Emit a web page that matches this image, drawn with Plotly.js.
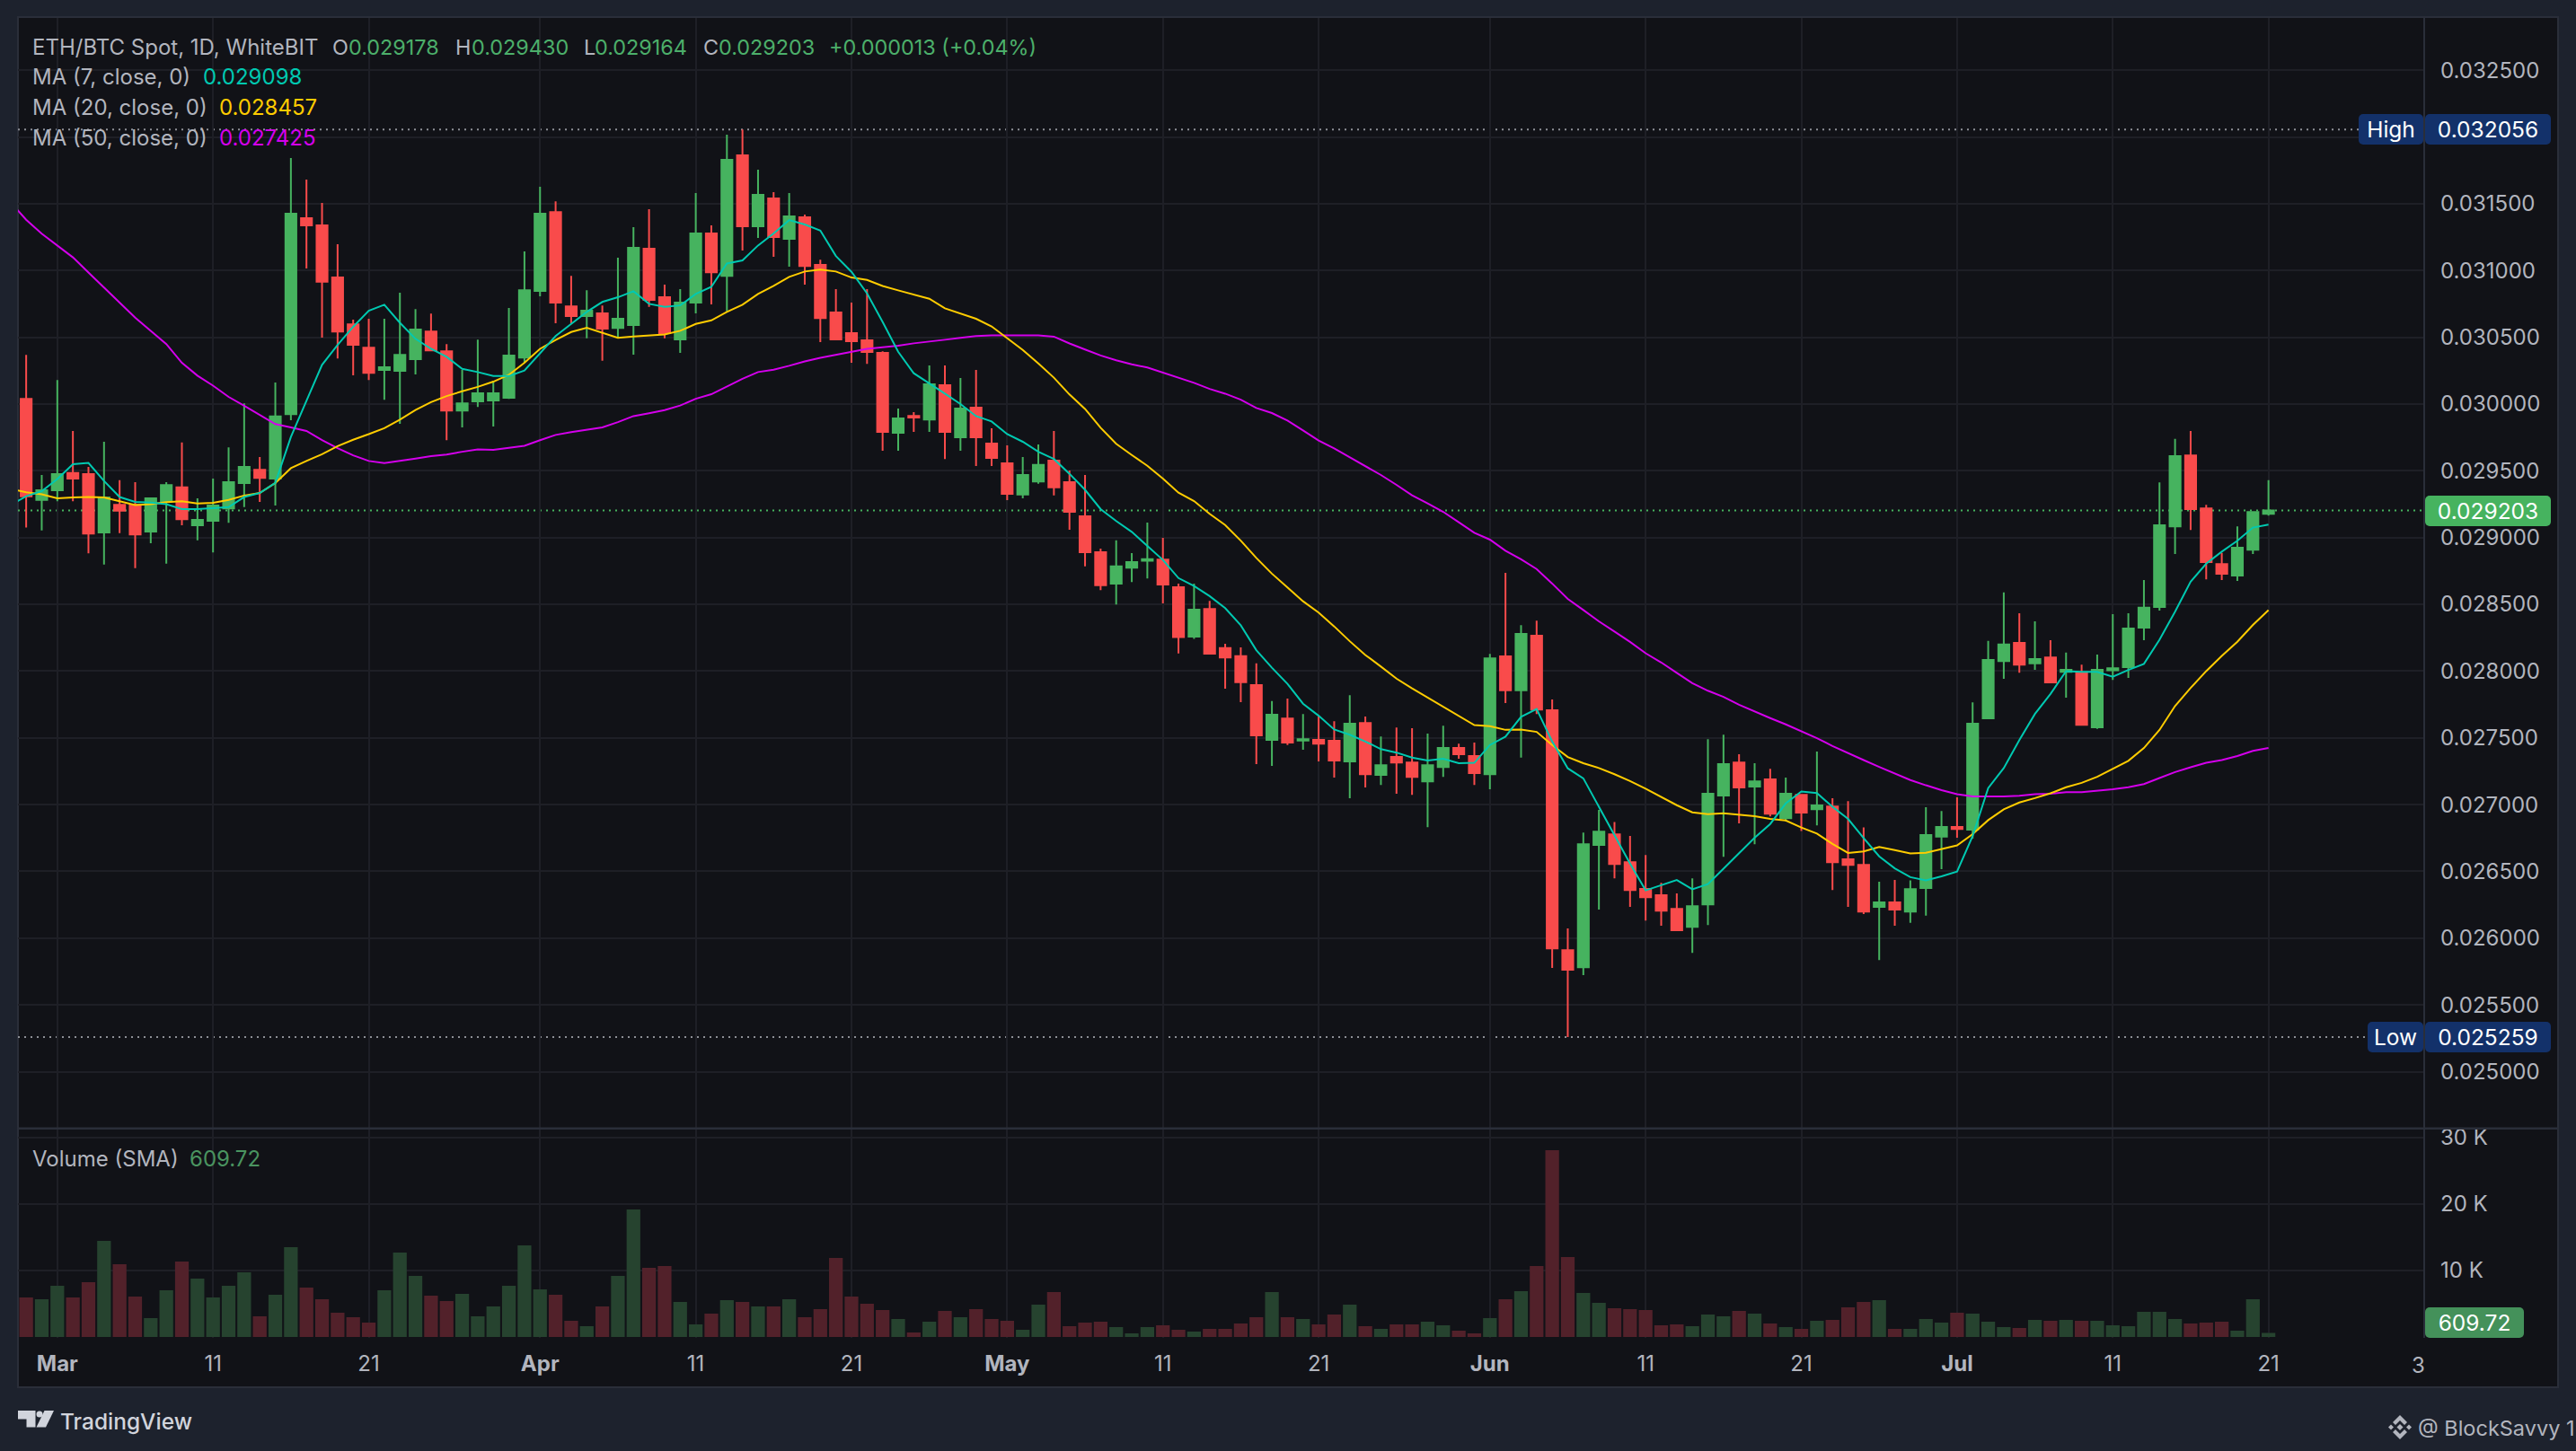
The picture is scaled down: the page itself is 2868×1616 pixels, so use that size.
<!DOCTYPE html>
<html>
<head>
<meta charset="utf-8">
<script src="https://cdn.plot.ly/plotly-3.0.1.min.js"></script>
<style>html,body{margin:0;padding:0;background:#1d222d;overflow:hidden}#chart{width:2868px;height:1616px}</style>
</head>
<body>
<div id="chart"></div>
<script>
// Daily candles, prices in millionths of BTC.
const days = [
"2025-02-27","2025-02-28",
"2025-03-01","2025-03-02","2025-03-03","2025-03-04","2025-03-05","2025-03-06","2025-03-07","2025-03-08","2025-03-09","2025-03-10","2025-03-11","2025-03-12","2025-03-13","2025-03-14","2025-03-15","2025-03-16","2025-03-17","2025-03-18","2025-03-19","2025-03-20","2025-03-21","2025-03-22","2025-03-23","2025-03-24","2025-03-25","2025-03-26","2025-03-27","2025-03-28","2025-03-29","2025-03-30","2025-03-31",
"2025-04-01","2025-04-02","2025-04-03","2025-04-04","2025-04-05","2025-04-06","2025-04-07","2025-04-08","2025-04-09","2025-04-10","2025-04-11","2025-04-12","2025-04-13","2025-04-14","2025-04-15","2025-04-16","2025-04-17","2025-04-18","2025-04-19","2025-04-20","2025-04-21","2025-04-22","2025-04-23","2025-04-24","2025-04-25","2025-04-26","2025-04-27","2025-04-28","2025-04-29","2025-04-30",
"2025-05-01","2025-05-02","2025-05-03","2025-05-04","2025-05-05","2025-05-06","2025-05-07","2025-05-08","2025-05-09","2025-05-10","2025-05-11","2025-05-12","2025-05-13","2025-05-14","2025-05-15","2025-05-16","2025-05-17","2025-05-18","2025-05-19","2025-05-20","2025-05-21","2025-05-22","2025-05-23","2025-05-24","2025-05-25","2025-05-26","2025-05-27","2025-05-28","2025-05-29","2025-05-30","2025-05-31",
"2025-06-01","2025-06-02","2025-06-03","2025-06-04","2025-06-05","2025-06-06","2025-06-07","2025-06-08","2025-06-09","2025-06-10","2025-06-11","2025-06-12","2025-06-13","2025-06-14","2025-06-15","2025-06-16","2025-06-17","2025-06-18","2025-06-19","2025-06-20","2025-06-21","2025-06-22","2025-06-23","2025-06-24","2025-06-25","2025-06-26","2025-06-27","2025-06-28","2025-06-29","2025-06-30",
"2025-07-01","2025-07-02","2025-07-03","2025-07-04","2025-07-05","2025-07-06","2025-07-07","2025-07-08","2025-07-09","2025-07-10","2025-07-11","2025-07-12","2025-07-13","2025-07-14","2025-07-15","2025-07-16","2025-07-17","2025-07-18","2025-07-19","2025-07-20","2025-07-21"];

const openRaw = [30039,29282,
29354,29484,29475,29039,29246,29246,29045,29271,29376,29093,29126,29219,29409,29508,29442,29925,31393,31339,30949,30597,30423,30255,30249,30336,30543,30396,29952,30021,30027,30048,30348,
30847,31438,30732,30659,30679,30571,30592,31163,30800,30484,30760,31278,30961,31863,31331,31540,31237,31399,31042,30686,30531,30477,30383,29785,29912,29885,30141,29751,29973,29704,
29556,29322,29421,29577,29415,29160,28890,28655,28775,28826,28836,28628,28259,28466,28172,28112,27896,27485,27645,27480,27485,27478,27323,27612,27223,27357,27316,27174,27282,27424,27364,
27228,28111,27856,28265,27707,25910,25782,26698,26778,26569,26369,26322,26219,26085,26253,27069,27316,27135,27190,26899,27074,26966,26986,26590,26549,26235,26268,26199,26376,26761,
26833,26812,27646,28075,28211,28058,28102,27994,27991,27580,28006,28030,28325,28481,29084,29615,29219,28802,28715,28910,29178];

const highRaw = [30369,29469,
30180,29799,29529,29718,29430,29415,29294,29415,29712,29294,29442,29676,30006,29604,30162,31843,31681,31507,31198,30633,30639,30639,30835,30711,30678,30450,30255,30483,30174,30720,31144,
31627,31519,30961,30852,30739,31096,31325,31459,30894,30861,31580,31338,32017,32056,31755,31587,31580,31419,31082,30861,30760,30861,30396,29966,29939,30289,30289,30195,30255,29818,
29691,29604,29697,29799,29502,29469,28917,28980,28884,29112,28998,28655,28655,28526,28205,28178,28058,27776,27794,27678,27666,27624,27820,27660,27511,27578,27573,27532,27591,27457,27465,
28129,28736,28345,28378,27787,26073,26791,26960,26870,26765,26623,26415,26335,26448,27491,27524,27377,27310,27269,27202,27074,27398,27048,27027,26829,26423,26436,26433,26980,26953,
27055,27766,28226,28589,28433,28373,28232,28139,28048,28124,28427,28433,28682,29414,29739,29799,29246,28886,29084,29192,29430];

const lowRaw = [29075,29054,
29273,29273,28883,28799,29033,28772,28958,28805,29093,28979,28889,29111,29228,29267,29240,29880,31015,30498,30342,30216,30180,30033,29853,30222,30402,29730,29826,29979,29832,30039,30309,
30807,30606,30606,30493,30325,30493,30370,30728,30493,30383,30679,30746,30695,31150,31244,31103,31029,30894,30464,30484,30309,30302,29650,29650,29791,29791,29589,29650,29536,29536,
29280,29295,29403,29316,29058,28785,28607,28499,28667,28694,28508,28133,28241,28130,27869,27767,27304,27290,27447,27411,27323,27202,27048,27128,27148,27081,27074,26832,27207,27344,27148,
27115,27761,27352,27678,25777,25259,25723,26214,26448,26235,26132,26093,26060,25890,26098,26610,26860,26703,26912,26875,26803,26845,26361,26235,26181,25836,26093,26115,26169,26517,
26752,26746,27640,27943,27988,28009,27916,27802,27592,27568,27934,27949,28232,28454,28877,29057,28688,28682,28676,28877,29164];

const closeRaw = [29310,29354,
29475,29442,29030,29301,29201,29024,29294,29394,29138,29132,29240,29415,29529,29448,29907,31426,31339,30916,30543,30444,30234,30276,30369,30558,30402,29952,30006,30081,30081,30363,30853,
31426,30760,30660,30699,30565,30639,31170,30780,30531,30760,31278,30988,31829,31331,31567,31251,31405,31035,30645,30484,30471,30390,29791,29892,29899,30148,29791,29966,29751,29596,
29328,29469,29544,29376,29193,28890,28643,28785,28817,28838,28649,28256,28460,28130,28103,27917,27518,27674,27465,27491,27457,27331,27606,27228,27295,27316,27207,27295,27424,27377,27236,
28095,27856,28278,27712,25923,25764,26703,26798,26556,26361,26307,26206,26060,26240,27081,27303,27128,27174,26932,27081,26940,26994,26569,26549,26199,26268,26214,26367,26773,26833,
26818,27607,28084,28199,28048,28090,27916,28009,27598,28009,28021,28319,28475,29093,29610,29213,28817,28730,28925,29192,29203];

// Moving averages start one day earlier, because the lines run in from the left edge.
const maDays = ["2025-02-26", ...days];

const ma7Raw = [29243,29310,29348,
29439,29550,29559,29424,29304,29268,29262,29250,29213,29213,29219,29228,29304,29334,29409,29754,30024,30294,30444,30579,30699,30744,30609,30489,30414,30354,30264,30240,30210,30210,30252,
30384,30510,30600,30690,30765,30800,30845,30751,30728,30739,30825,30878,31053,31076,31188,31278,31378,31345,31300,31109,30991,30829,30616,30392,30231,30157,30078,30000,29910,29870,
29775,29718,29643,29589,29478,29358,29214,29124,29043,28938,28833,28697,28637,28562,28472,28343,28157,28026,27905,27756,27666,27563,27524,27473,27416,27390,27352,27331,27344,27310,27313,
27447,27509,27658,27717,27473,27272,27197,26984,26778,26559,26358,26397,26435,26366,26405,26520,26636,26752,26855,27009,27099,27087,26984,26893,26750,26613,26523,26457,26433,26463,
26499,26764,27124,27274,27484,27679,27829,28000,27994,27994,27958,28009,28054,28235,28445,28670,28805,28895,28976,29075,29098];

const ma20Raw = [29364,29340,29324,
29294,29301,29304,29301,29273,29244,29250,29265,29273,29255,29261,29282,29315,29334,29409,29520,29574,29625,29685,29733,29775,29820,29883,29955,30015,30060,30096,30129,30168,30219,30309,
30414,30480,30540,30571,30533,30497,30506,30515,30522,30549,30600,30627,30690,30744,30825,30885,30953,30993,31008,30993,30948,30930,30885,30852,30818,30789,30717,30679,30639,30582,
30495,30405,30304,30198,30072,29964,29823,29703,29619,29538,29442,29337,29274,29178,29094,28977,28848,28730,28626,28523,28438,28335,28224,28121,28034,27944,27871,27802,27738,27666,27596,
27588,27560,27563,27545,27447,27357,27310,27274,27228,27177,27120,27056,26996,26942,26929,26935,26927,26914,26893,26881,26829,26783,26706,26638,26650,26683,26659,26635,26640,26668,
26695,26779,26884,26965,27016,27049,27085,27130,27163,27208,27268,27328,27424,27559,27739,27874,28000,28114,28220,28346,28457];

const ma50Raw = [31510,31381,31276,
31189,31099,30985,30871,30759,30648,30549,30450,30309,30213,30138,30054,29988,29919,29850,29826,29799,29730,29670,29616,29574,29559,29574,29592,29610,29622,29643,29661,29658,29673,29688,
29730,29769,29790,29808,29825,29865,29910,29932,29955,29989,30040,30074,30130,30190,30240,30257,30287,30320,30347,30370,30388,30414,30426,30437,30455,30471,30482,30497,30509,30515,
30515,30517,30514,30505,30454,30409,30364,30328,30298,30274,30237,30198,30159,30114,30078,30033,29971,29933,29877,29803,29727,29668,29601,29534,29469,29395,29317,29256,29193,29115,29036,
28985,28902,28837,28765,28656,28541,28458,28373,28296,28219,28134,28065,27987,27910,27853,27807,27748,27696,27648,27601,27550,27498,27439,27385,27334,27283,27235,27184,27145,27109,
27079,27061,27061,27061,27067,27079,27082,27094,27094,27103,27115,27130,27154,27199,27244,27280,27313,27334,27364,27403,27425];

const volume = [5940,5670,
7695,5940,8235,14445,10935,6075,2835,7020,11340,8775,5940,7695,9720,3105,6345,13500,7425,5670,3645,2970,2160,7020,12690,9180,6210,5400,6480,3105,4590,7695,13770,
7155,6345,2430,1620,4590,9180,19170,10395,10665,5265,1890,3510,5535,5265,4590,4590,5670,2970,4185,11880,6075,4995,4050,2700,675,2295,3915,2970,4185,2700,
2430,1080,4860,6750,1620,2160,2295,1485,540,1485,1755,1080,810,1215,1215,2025,2970,6750,2970,2700,1890,3375,4860,1620,1215,1890,1890,2295,1755,945,540,
2835,5670,6885,10665,28080,12015,6615,5130,4320,4185,4050,1755,1890,1620,3375,3105,3915,3510,2025,1485,1215,2430,2565,4455,5265,5535,1215,1215,2700,2160,
3645,3510,2295,1485,1350,2565,2430,2565,2430,2430,1755,1620,3780,3780,2700,2025,2160,2295,945,5670,609.72];

const timeTickDays = ["2025-03-01","2025-03-11","2025-03-21","2025-04-01","2025-04-11","2025-04-21","2025-05-01","2025-05-11","2025-05-21","2025-06-01","2025-06-11","2025-06-21","2025-07-01","2025-07-11","2025-07-21","2025-07-31"];
const timeTickText = ["<b>Mar</b>","11","21","<b>Apr</b>","11","21","<b>May</b>","11","21","<b>Jun</b>","11","21","<b>Jul</b>","11","21",""];
const priceTicks = [0.0325,0.032,0.0315,0.031,0.0305,0.03,0.0295,0.029,0.0285,0.028,0.0275,0.027,0.0265,0.026,0.0255,0.025];
const priceTickText = ["0.032500","","0.031500","0.031000","0.030500","0.030000","0.029500","0.029000","0.028500","0.028000","0.027500","0.027000","0.026500","0.026000","0.025500","0.025000"];
const volumeTicks = [10000,20000,30000];
const volumeTickText = ["10 K","20 K","30 K"];

const lastPrice = 0.029203, highPrice = 0.032056, lowPrice = 0.025259, lastVolume = 609.72;

const toPrice = a => a.map(v => v / 1e6);
const open = toPrice(openRaw), high = toPrice(highRaw), low = toPrice(lowRaw), close = toPrice(closeRaw);

const UP = "#46b35f", DOWN = "#f94b4b", VOL_UP = "#26432f", VOL_DOWN = "#52212a";
const FRAME = "#1d222d", PANEL = "#111217", GRID = "#1e1f26", BORDER = "#2a2e39", TEXT = "#b2b5be";
const FONT = "Inter, 'Noto Sans', sans-serif";

// Page pixels to paper fractions: the plot area runs 20..2699 across and 20..1490 down.
const PL = 20, PR = 2699, PT = 20, PB = 1490;
const px = x => (x - PL) / (PR - PL);
const py = y => (PB - y) / (PB - PT);
const poly = pts => "M" + pts.map(p => px(p[0]) + " " + py(p[1])).join("L") + "Z";

const paperBox = (x0, y0, x1, y1, fill, line, layer) => ({type:"rect", xref:"paper", yref:"paper", x0:px(x0), x1:px(x1), y0:py(y0), y1:py(y1), fillcolor:fill, line: line ? {color:line, width:2} : {width:0}, layer: layer || "below"});
const levelLine = (value, color) => ({type:"line", xref:"paper", yref:"y", x0:0, x1:1, y0:value, y1:value, line:{color:color, width:2, dash:"2px,5px"}, layer:"below"});
const glyph = (path, fill) => ({type:"path", xref:"paper", yref:"paper", path, fillcolor:fill, line:{width:0}, layer:"above"});

const shapes = [
  paperBox(20, 19, 2848, 1545, PANEL, BORDER),
  levelLine(highPrice, "#8d8f96"),
  levelLine(lowPrice, "#8d8f96"),
  levelLine(lastPrice, UP),
  paperBox(2698, 19, 2700, 1490, BORDER, null, "above"),
  paperBox(20, 1255.5, 2848, 1258, BORDER, null, "above"),
  // TradingView mark
  glyph(poly([[20,1571],[39.5,1571],[39.5,1589.5],[29.5,1589.5],[29.5,1580.5],[20,1580.5]]), "#d1d4dc"),
  glyph(poly([[49.5,1571],[60,1571],[51,1589.5],[40.5,1589.5]]), "#d1d4dc"),
  {type:"circle", xref:"paper", yref:"paper", x0:px(40.5), x1:px(47.5), y0:py(1571.5), y1:py(1578.5), fillcolor:"#d1d4dc", line:{width:0}, layer:"above"},
  // Author mark
  glyph(poly([[2672,1576],[2680,1584],[2677,1587],[2672,1582],[2667,1587],[2664,1584]]), TEXT),
  glyph(poly([[2672,1603],[2680,1595],[2677,1592],[2672,1597],[2667,1592],[2664,1595]]), TEXT),
  glyph(poly([[2672,1586],[2675.5,1589.5],[2672,1593],[2668.5,1589.5]]), TEXT),
  glyph(poly([[2662,1586.5],[2665,1589.5],[2662,1592.5],[2659,1589.5]]), TEXT),
  glyph(poly([[2682,1586.5],[2685,1589.5],[2682,1592.5],[2679,1589.5]]), TEXT)
];

const HS = 23.4, MS = 24;
const label = (x, y, text, color, size, weight) => ({xref:"paper", yref:"paper", x:px(x), y:py(y), xanchor:"left", yanchor:"middle", text, showarrow:false, borderpad:0, borderwidth:0, font:{family:FONT, size:size||MS, color:color||TEXT, weight:weight||400}});
const tag = (x0, x1, yValue, yref, text, bg, shift, h) => ({xref:"paper", yref, x:px((x0+x1)/2), y:yValue, xanchor:"center", yanchor:"middle", yshift:shift||0, width:x1-x0, height:h||34, bgcolor:bg, text, showarrow:false, borderpad:0, borderwidth:0, align:"center", font:{family:FONT, size:24.5, color:"#ffffff"}});

const GREENTXT = "#4caf6a";
const annotations = [
  label(36, 52, "ETH/BTC Spot, 1D, WhiteBIT", TEXT, 24),
  label(370, 52, "O", TEXT, HS), label(388, 52, "0.029178", GREENTXT, HS),
  label(507, 52, "H", TEXT, HS), label(525, 52, "0.029430", GREENTXT, HS),
  label(650, 52, "L", TEXT, HS), label(662, 52, "0.029164", GREENTXT, HS),
  label(783, 52, "C", TEXT, HS), label(800, 52, "0.029203", GREENTXT, HS),
  label(923, 52, "+0.000013 (+0.04%)", GREENTXT, HS),
  label(36, 86, "MA (7, close, 0)"), label(226, 86, "0.029098", "#00c9b1"),
  label(36, 120, "MA (20, close, 0)"), label(244, 120, "0.028457", "#ffcc00"),
  label(36, 154, "MA (50, close, 0)"), label(244, 154, "0.027425", "#d400ec"),
  label(36, 1290, "Volume (SMA)"), label(211, 1290, "609.72", "#4a9460"),
  tag(2626, 2698, highPrice, "y", "High", "#13316a"),
  tag(2700, 2840, highPrice, "y", "0.032056", "#13316a"),
  tag(2636, 2698, lowPrice, "y", "Low", "#13316a"),
  tag(2700, 2840, lowPrice, "y", "0.025259", "#13316a"),
  tag(2700, 2840, lastPrice, "y", "0.029203", UP),
  tag(2700, 2810, lastVolume, "y2", "609.72", "#44915a", 11),
  label(67, 1583, "TradingView", "#d1d4dc", 24.5, 500),
  label(2692, 1590, "@ BlockSavvy 1", TEXT, 23.5),
  label(2685, 1520, "3", TEXT, 24)
];

const maTrace = (y, color) => ({type:"scatter", mode:"lines", x:maDays, y:toPrice(y), xaxis:"x", yaxis:"y", line:{color, width:2, shape:"linear"}, hoverinfo:"skip"});

const traces = [
  {type:"bar", x:days, y:volume, xaxis:"x", yaxis:"y2", marker:{color:volume.map((_, i) => close[i] >= open[i] ? VOL_UP : VOL_DOWN), line:{width:0}}, hoverinfo:"skip"},
  maTrace(ma50Raw, "#d400ec"),
  maTrace(ma20Raw, "#ffcc00"),
  maTrace(ma7Raw, "#00c9b1"),
  {type:"candlestick", x:days, open, high, low, close, xaxis:"x", yaxis:"y", whiskerwidth:0,
   increasing:{line:{color:UP, width:2}, fillcolor:UP}, decreasing:{line:{color:DOWN, width:2}, fillcolor:DOWN}, hoverinfo:"skip"}
];

const layout = {
  width:2868, height:1616, autosize:false, showlegend:false,
  paper_bgcolor:FRAME, plot_bgcolor:PANEL,
  margin:{l:PL, r:2868-PR, t:PT, b:1616-PB, pad:0},
  font:{family:FONT, color:TEXT, size:24},
  bargap:0.12, boxgap:0.3, boxgroupgap:0,
  xaxis:{type:"date", range:["2025-02-26 11:21","2025-07-31 00:00"], anchor:"y2", domain:[0,1],
    tickmode:"array", tickvals:timeTickDays, ticktext:timeTickText, ticks:"", ticklabelstandoff:12,
    showgrid:true, gridcolor:GRID, gridwidth:2, zeroline:false, showline:false,
    rangeslider:{visible:false}, tickfont:{family:FONT, size:24, color:TEXT}, fixedrange:true},
  yaxis:{domain:[py(1256),1], side:"right", anchor:"x", range:[0.024580,0.032892],
    tickmode:"array", tickvals:priceTicks, ticktext:priceTickText, ticks:"", ticklabelstandoff:17,
    showgrid:true, gridcolor:GRID, gridwidth:2, zeroline:false, showline:false,
    tickfont:{family:FONT, size:24, color:TEXT}, fixedrange:true},
  yaxis2:{domain:[0,py(1258)], side:"right", anchor:"x", range:[-135,31174],
    tickmode:"array", tickvals:volumeTicks, ticktext:volumeTickText, ticks:"", ticklabelstandoff:17,
    showgrid:true, gridcolor:GRID, gridwidth:2, zeroline:false, showline:false,
    tickfont:{family:FONT, size:24, color:TEXT}, fixedrange:true},
  shapes, annotations
};

Plotly.newPlot("chart", traces, layout, {displayModeBar:false, staticPlot:true}).then(() => {
  document.querySelectorAll(".annotation rect.bg").forEach(r => { if (r.style.fill && r.style.fillOpacity !== "0") r.setAttribute("rx", 5); });
});
</script>
</body>
</html>
